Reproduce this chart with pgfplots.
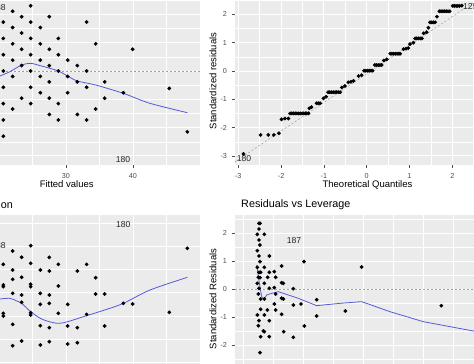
\documentclass[border=0pt]{standalone}
\usepackage{pgfplots}
\pgfplotsset{compat=1.18}
\usepackage{fontspec}
\setmainfont{Liberation Sans}
\definecolor{panel}{HTML}{EBEBEB}
\definecolor{tickgrey}{HTML}{4D4D4D}
\definecolor{loess}{RGB}{85,90,215}
\pgfplotsset{
 diag/.style={
  scale only axis, clip=false, anchor=south west,
  axis background/.style={fill=panel},
  axis line style={draw=none},
  grid=both,
  major grid style={draw=white, line width=0.9pt},
  minor grid style={draw=white, line width=0.45pt},
  tick align=outside,
  major tick length=2.8pt,
  minor tick length=0pt,
  tick style={draw=black!70, line width=0.5pt},
  xtick pos=bottom, ytick pos=left,
  ticklabel style={font=\fontsize{7.2}{8}\selectfont, text=tickgrey, inner sep=1pt},
  xticklabel style={yshift=-4.5pt},
  yticklabel style={xshift=-4pt},
 },
 pts/.style={only marks, mark=*, mark size=1.7pt, black},
 smooth line/.style={no marks, loess, line width=0.8pt},
 zero line/.style={no marks, gray!75, line width=0.7pt, dash pattern=on 2pt off 2pt},
}
\tikzset{lab/.style={font=\fontsize{8.6}{9}\selectfont, text=black!85, inner sep=1pt},
 atitle/.style={font=\fontsize{9.5}{10}\selectfont, inner sep=0.5pt}}
\begin{document}
\begin{tikzpicture}
\useasboundingbox (0,0) rectangle (474pt,364pt);
\clip (0,0) rectangle (474pt,364pt);

% ---------------- Residuals vs Fitted (top left)
\begin{axis}[diag, at={(-10pt,199pt)}, width=210pt, height=175pt,
  xmin=18.66, xmax=50.0, ymin=-17.30, ymax=14.91,
  xtick={30,40}, xticklabels={30,40}, minor xtick={25,35,45},
  ytick={-15.62,-10.41,-5.21,0,5.21,10.41}, yticklabels={},
  minor ytick={-13.02,-7.81,-2.60,2.60,7.81,13.02}]
\addplot[zero line] coordinates {(18.66,0) (50,0)};
\addplot[pts] coordinates {
(24.73,12) (22.04,11) (23.38,10) (27.51,10) (20.65,9) (24.73,9) (33.08,9)
(22.04,8) (26.17,8) (23.38,7) (20.65,6) (24.73,6) (28.86,6)
(22.04,5) (26.17,5) (34.43,5) (23.38,4) (27.51,4) (39.95,4)
(20.65,3) (24.73,3) (28.86,3) (22.04,2) (26.17,2) (30.25,2)
(23.38,1) (27.51,1) (31.69,1) (20.65,0) (24.73,0) (28.86,0) (33.08,0)
(22.04,-1) (26.17,-1) (30.25,-1) (27.51,-2) (31.69,-2) (35.77,-2)
(20.65,-3) (24.73,-3) (33.08,-3) (45.42,-3.2) (26.17,-4) (30.25,-4) (38.56,-4)
(23.38,-5) (27.51,-5) (35.77,-5) (20.65,-6) (24.73,-6) (28.86,-6)
(22.04,-7) (34.43,-7) (27.51,-8) (31.69,-8) (20.65,-9) (28.86,-9) (33.08,-9)
(48.11,-11.2) (20.65,-12)};
\addplot[smooth line, smooth] coordinates {
(20.15,-0.92) (21.64,-0.12) (23.38,1.10) (24.73,1.41) (26.17,0.98) (27.61,0.49)
(28.86,0) (30.25,-0.92) (31.69,-1.84) (34.43,-2.58) (38.56,-4.11) (42.54,-5.95) (48.11,-7.67)};
\node[lab] at (axis cs:38.5,-16.26) {180};
\node[lab, anchor=east] at (axis cs:21.19,11.7) {188};
\end{axis}

% ---------------- Normal Q-Q (top right)
\begin{axis}[diag, at={(235pt,199pt)}, width=255pt, height=175pt,
  xmin=-3.077, xmax=2.881, ymin=-3.322, ymax=2.862,
  xtick={-3,-2,-1,0,1,2}, xticklabels={-3,-2,-1,0,1,2},
  minor xtick={-2.5,-1.5,-0.5,0.5,1.5,2.5},
  ytick={-3,-2,-1,0,1,2}, yticklabels={-3,-2,-1,0,1,2},
  minor ytick={-2.5,-1.5,-0.5,0.5,1.5,2.5}]
\addplot[no marks, gray!70, line width=0.6pt, dash pattern=on 2pt off 2pt] coordinates {(-3.077,-3.21) (2.881,2.81)};
\addplot[pts] coordinates {
(-2.88,-2.93)
(-2.48,-2.26) (-2.30,-2.26) (-2.17,-2.26) (-2.05,-2.20)
(-1.99,-1.71) (-1.91,-1.68) (-1.83,-1.68)
(-1.79,-1.50) (-1.75,-1.50) (-1.71,-1.50) (-1.67,-1.50) (-1.63,-1.50) (-1.59,-1.50)
(-1.55,-1.50) (-1.51,-1.50) (-1.47,-1.50) (-1.43,-1.50) (-1.40,-1.50) (-1.36,-1.50)
(-1.34,-1.32) (-1.29,-1.28)
(-1.17,-1.14) (-1.13,-1.14) (-1.09,-1.14)
(-1.01,-0.97) (-0.95,-0.91)
(-0.90,-0.75) (-0.86,-0.75) (-0.82,-0.75) (-0.78,-0.75) (-0.74,-0.75) (-0.70,-0.75) (-0.66,-0.75) (-0.62,-0.75)
(-0.58,-0.58) (-0.51,-0.53)
(-0.43,-0.40) (-0.37,-0.38) (-0.31,-0.35)
(-0.19,-0.18) (-0.12,-0.15)
(-0.06,0.01) (-0.02,0.01) (0.02,0.01) (0.06,0.01) (0.10,0.01) (0.14,0.01)
(0.19,0.21) (0.23,0.21) (0.27,0.21) (0.31,0.21) (0.35,0.21)
(0.40,0.37) (0.47,0.41)
(0.55,0.61) (0.59,0.61) (0.63,0.61) (0.67,0.61) (0.71,0.61) (0.75,0.61) (0.78,0.61)
(0.86,0.77) (0.92,0.79) (0.97,0.81)
(1.01,0.95) (1.09,1.00)
(1.13,1.15) (1.17,1.15) (1.21,1.15) (1.25,1.15) (1.29,1.15)
(1.33,1.33) (1.40,1.37)
(1.44,1.53)
(1.48,1.72) (1.52,1.72) (1.56,1.72) (1.60,1.72)
(1.64,1.92)
(1.70,2.11) (1.74,2.11) (1.78,2.11) (1.82,2.11) (1.86,2.11) (1.90,2.11) (1.94,2.11)
(2.01,2.30) (2.05,2.30) (2.09,2.30) (2.13,2.30) (2.17,2.30) (2.22,2.31)};
\node[lab] at (axis cs:-2.867,-3.11) {180};
\node[lab, anchor=west] at (axis cs:2.227,2.26) {125};
\end{axis}

% ---------------- Scale-Location (bottom left)
\begin{axis}[diag, at={(-10pt,-16pt)}, width=210pt, height=165pt,
  xmin=18.66, xmax=50.0, ymin=0.0583, ymax=1.840,
  xtick={30,40}, xticklabels={}, minor xtick={25,35,45},
  ytick={0.5,1,1.5}, yticklabels={}, minor ytick={0.25,0.75,1.25,1.75}]
\addplot[pts] coordinates {
(24.73,1.509) (22.04,1.451) (23.38,1.383) (27.51,1.383) (20.65,1.307) (24.73,1.318)
(28.86,1.307) (33.08,1.307) (26.17,1.246) (27.51,1.235) (22.04,1.246) (31.69,1.235)
(23.38,1.167) (22.04,1.145) (34.43,1.163) (20.65,1.085) (20.65,1.066) (24.73,1.092)
(24.73,1.066) (28.86,1.073) (22.04,0.994) (23.38,0.976) (26.17,0.994) (27.51,0.976)
(34.43,0.987) (35.77,0.987) (23.38,0.897) (26.17,0.875) (27.51,0.886) (30.25,0.875)
(38.56,0.886) (39.95,0.879) (20.65,0.778) (20.65,0.749) (24.73,0.785) (24.73,0.760)
(28.86,0.778) (33.08,0.767) (45.42,0.789) (22.04,0.659) (26.17,0.645) (27.51,0.623)
(30.25,0.641) (31.69,0.623) (35.77,0.641) (22.04,0.429) (23.38,0.480) (26.17,0.436)
(27.51,0.472) (30.25,0.447) (31.69,0.461) (48.11,1.480)};
\addplot[smooth line, smooth] coordinates {
(20.15,0.933) (21.64,0.940) (22.64,0.912) (23.38,0.886) (24.73,0.796) (26.17,0.724)
(27.51,0.688) (28.86,0.670) (30.25,0.688) (33.08,0.753) (35.77,0.814) (38.56,0.886)
(42.54,1.030) (48.11,1.167)};
\node[lab] at (axis cs:38.56,1.732) {180};
\node[lab, anchor=east] at (axis cs:21.19,1.505) {188};
\end{axis}

% ---------------- Residuals vs Leverage (bottom right)
\begin{axis}[diag, at={(235pt,-16pt)}, width=255pt, height=165pt,
  xmin=-0.0133, xmax=0.4117, ymin=-3.25, ymax=2.643,
  xtick={0,0.1,0.2,0.3,0.4}, xticklabels={},
  minor xtick={0.05,0.15,0.25,0.35},
  ytick={-2,-1,0,1,2}, yticklabels={-2,-1,0,1,2},
  minor ytick={-2.5,-1.5,-0.5,0.5,1.5,2.5}]
\addplot[zero line] coordinates {(-0.0133,0) (0.4117,0)};
\addplot[pts] coordinates {
(0.0267,2.345) (0.0283,2.345) (0.0267,2.143) (0.0239,1.952) (0.0356,1.952)
(0.0267,1.750) (0.0283,1.571) (0.0239,1.369) (0.0267,1.179) (0.0283,0.976)
(0.0439,1.179) (0.0239,0.774) (0.0356,0.774) (0.0644,0.821) (0.1017,0.976)
(0.0267,0.595) (0.0294,0.595) (0.0439,0.595) (0.0522,0.619) (0.0411,0.417)
(0.0544,0.417) (0.0256,0.417) (0.0283,0.405) (0.0239,0.202) (0.0356,0.202)
(0.0644,0.226) (0.0672,0.202) (0.0267,0.024) (0.0439,0.024) (0.0522,0.048)
(0.0839,0.012) (0.0256,-0.179) (0.0544,-0.179) (0.0294,-0.357) (0.0356,-0.357)
(0.0644,-0.333) (0.0672,-0.357) (0.0522,-0.536) (0.0839,-0.571) (0.0967,-0.536)
(0.1228,-0.381) (0.0294,-0.726) (0.0406,-0.750) (0.0544,-0.750) (0.0644,-0.905)
(0.0356,-0.929) (0.0239,-0.929) (0.0267,-1.131) (0.0439,-1.131) (0.1228,-0.964)
(0.0256,-1.310) (0.1022,-1.321) (0.0339,-1.500) (0.0356,-1.524) (0.0678,-1.524)
(0.0294,-1.702) (0.0439,-1.702) (0.0839,-1.726) (0.0283,-2.274) (0.1978,0.786)
(0.1706,-0.786) (0.3306,-0.595)};
\addplot[smooth line] coordinates {
(0.0228,0.857) (0.0256,0.440) (0.0283,0.083) (0.0311,-0.274) (0.0350,-0.369)
(0.0394,-0.214) (0.0478,-0.155) (0.0589,-0.095) (0.0672,-0.155) (0.0922,-0.333)
(0.1228,-0.595) (0.1617,-0.512) (0.1978,-0.452) (0.2450,-0.810) (0.3006,-1.167)
(0.3839,-1.5) (0.4117,-1.6)};
\node[lab] at (axis cs:0.085,1.714) {187};
\end{axis}

% ---------------- titles and axis titles
\node[atitle] at (66.7pt,179.5pt) {Fitted values};
\node[atitle] at (367.5pt,179.5pt) {Theoretical Quantiles};
\node[atitle, rotate=90] at (213pt,283pt) {Standardized residuals};
\node[atitle, rotate=90] at (213pt,65pt) {Standardized Residuals};
\node[font=\fontsize{10.8}{11}\selectfont, anchor=west, inner sep=0pt] at (241pt,159pt) {Residuals vs Leverage};
\node[font=\fontsize{10.8}{11}\selectfont, anchor=east, inner sep=0pt] at (13pt,159pt) {Scale-Location};
\end{tikzpicture}
\end{document}
